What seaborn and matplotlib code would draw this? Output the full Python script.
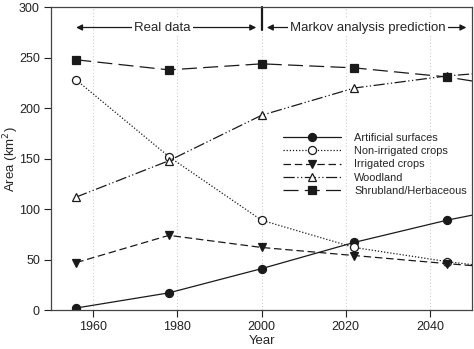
import numpy as np
import pandas as pd
import seaborn as sns
import matplotlib.pyplot as plt

# observed / predicted years (markers) and the line end at 2050
years = [1956, 1978, 2000, 2022, 2044]
end_year = 2050

artificial = [2, 17, 41, 67, 89]
non_irrigated = [228, 152, 89, 62, 48]
irrigated = [47, 74, 62, 54, 46]
woodland = [112, 148, 193, 220, 232]
shrubland = [248, 238, 244, 240, 231]

# where each line leaves the plot at 2050
end_values = [94, 45, 44, 234, 227]

names = ["Artificial surfaces", "Non-irrigated crops", "Irrigated crops",
         "Woodland", "Shrubland/Herbaceous"]
series = [artificial, non_irrigated, irrigated, woodland, shrubland]

rows = []
for name, vals, endv in zip(names, series, end_values):
    for y, v in zip(years + [end_year], vals + [endv]):
        rows.append({"Year": y, "Area": v, "cover": name})
df = pd.DataFrame(rows)

sns.set_style("ticks")
plt.rcParams['font.family'] = ['Liberation Sans', 'DejaVu Sans']

fig = plt.figure(figsize=(4.74, 3.49), dpi=100)
ax = fig.add_axes([0.1076, 0.1117, 0.8884, 0.8673])

ink = "#1a1a1a"
styles = {
    "Artificial surfaces": dict(ls="-", marker="o", mfc=ink),
    "Non-irrigated crops": dict(ls=(0, (1, 1.5)), marker="o", mfc="white"),
    "Irrigated crops": dict(ls=(0, (6, 3)), marker="v", mfc=ink),
    "Woodland": dict(ls=(0, (9, 2, 1, 2, 1, 2)), marker="^", mfc="white"),
    "Shrubland/Herbaceous": dict(ls=(0, (12, 5)), marker="s", mfc=ink),
}

for name in names:
    st = styles[name]
    sub = df[df["cover"] == name]
    sns.lineplot(data=sub, x="Year", y="Area", ax=ax, color=ink, lw=0.9,
                 linestyle=st["ls"], marker=st["marker"], markersize=5.8,
                 markerfacecolor=st["mfc"], markeredgecolor=ink, markeredgewidth=0.9,
                 markevery=list(range(len(years))), label=name)

ax.set_xlim(1950, 2050)
ax.set_ylim(0, 300)
ax.set_xticks([1960, 1980, 2000, 2020, 2040])
ax.set_yticks([0, 50, 100, 150, 200, 250, 300])
ax.xaxis.grid(True, color="#cfcfcf", ls=(0, (1, 2)), lw=0.8)
ax.set_axisbelow(True)
ax.tick_params(labelsize=9, colors="#222", length=5, width=0.8, pad=3)
for s in ax.spines.values():
    s.set_color("#444")
    s.set_linewidth(0.9)
ax.set_xlabel("Year", fontsize=9.5, labelpad=1)
ax.set_ylabel("Area (km$^2$)", fontsize=9.5)
ax.yaxis.set_label_coords(-0.072, 0.5)

# header annotations
ax.plot([2000, 2000], [278, 300], color=ink, lw=1.6, clip_on=False)
ax.annotate("", xy=(1955.3, 280), xytext=(1999.4, 280),
            arrowprops=dict(arrowstyle="<|-|>", color=ink, lw=0.9, mutation_scale=9))
ax.annotate("", xy=(2000.6, 280), xytext=(2049.3, 280),
            arrowprops=dict(arrowstyle="<|-|>", color=ink, lw=0.9, mutation_scale=9))
ax.text(1976.5, 280, "Real data", ha="center", va="center", fontsize=9.5,
        bbox=dict(fc="white", ec="none", pad=1.5))
ax.text(2025.2, 280, "Markov analysis prediction", ha="center", va="center", fontsize=9.5,
        bbox=dict(fc="white", ec="none", pad=1.5))

ax.legend(loc="upper left", bbox_to_anchor=(0.54, 0.6), frameon=False,
          fontsize=7.9, handlelength=5.3, handletextpad=1.2, labelspacing=0.3,
          borderaxespad=0)

fig.savefig("out.png", dpi=100)
